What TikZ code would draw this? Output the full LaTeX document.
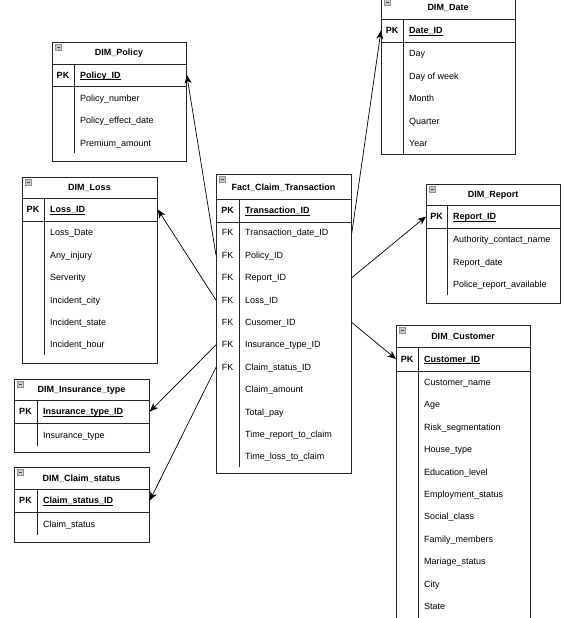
\documentclass[tikz,border=0pt]{standalone}
\usepackage{fontspec}
\setmainfont{Liberation Sans}
\usepackage{tikz}
\usetikzlibrary{arrows.meta, positioning}

\newcommand{\pkname}[1]{\underline{\smash{#1}}}

\tikzset{
  tbl/.style={draw=black!85, line width=0.8pt, anchor=north west, inner sep=0pt},
  tblline/.style={draw=black!85, line width=0.8pt},
  icon/.style={draw=gray!85, fill=gray!45, line width=0.5pt},
  txt/.style={font=\fontsize{9}{11}\selectfont, inner sep=0pt, text height=6.5pt, text depth=0.5pt},
  ttl/.style={txt, font=\fontsize{9}{11}\selectfont\bfseries},
  keylbl/.style={txt},
  pklbl/.style={txt, font=\fontsize{9}{11}\selectfont\bfseries},
  fld/.style={txt, anchor=west},
  pkfld/.style={fld, font=\fontsize{9}{11}\selectfont\bfseries},
  fkarrow/.style={draw=black, line width=0.7pt, -{Stealth[length=8.5pt, width=7pt, inset=2.5pt]}}
}

\begin{document}
\begin{tikzpicture}[x=1pt, y=-1pt]
  \useasboundingbox (0,0) rectangle (565,618);
  \clip (0,0) rectangle (565,618);

  % DIM_Date
  \node[tbl, minimum width=134, minimum height=157] (date) at (381,-3) {};
  \draw[tblline] (381,19) -- (515,19) (381,42) -- (515,42) (403,19) -- (403,154);
  \node[ttl] (datettl) at (448,8) {DIM\_Date};
  \node[pklbl] (datekey) at (392,30.5) {PK};
  \node[pkfld] (datepk) at (409,30.5) {\pkname{Date\_ID}};
  \foreach \t [count=\i] in {Day, Day of week, Month, Quarter, Year}
    \node[fld] (date\i) at (409,31.5+22.4*\i) {\t};

  % DIM_Policy
  \node[tbl, minimum width=134, minimum height=119] (policy) at (52,42) {};
  \draw[tblline] (52,64) -- (186,64) (52,86) -- (186,86) (74,64) -- (74,153);
  \node[ttl] (polttl) at (119,53) {DIM\_Policy};
  \node[pklbl] (polkey) at (63,75) {PK};
  \node[pkfld] (polpk) at (80,75) {\pkname{Policy\_ID}};
  \foreach \t [count=\i] in {Policy\_number, Policy\_effect\_date, Premium\_amount}
    \node[fld] (pol\i) at (80,76+22.4*\i) {\t};

  % DIM_Loss
  \node[tbl, minimum width=135, minimum height=186] (loss) at (22,177) {};
  \draw[tblline] (22,198) -- (157,198) (22,221) -- (157,221) (44,198) -- (44,355);
  \node[ttl] (lossttl) at (89.5,187.5) {DIM\_Loss};
  \node[pklbl] (losskey) at (33,209.5) {PK};
  \node[pkfld] (losspk) at (50,209.5) {\pkname{Loss\_ID}};
  \foreach \t [count=\i] in {Loss\_Date, Any\_injury, Serverity, Incident\_city, Incident\_state, Incident\_hour}
    \node[fld] (loss\i) at (50,210.5+22.4*\i) {\t};

  % DIM_Insurance_type
  \node[tbl, minimum width=135, minimum height=73] (instype) at (14,379) {};
  \draw[tblline] (14,400) -- (149,400) (14,423) -- (149,423) (37,400) -- (37,446);
  \node[ttl] (insttl) at (81.5,389.5) {DIM\_Insurance\_type};
  \node[pklbl] (inskey) at (25.5,411.5) {PK};
  \node[pkfld] (inspk) at (43,411.5) {\pkname{Insurance\_type\_ID}};
  \node[fld] (ins1) at (43,435) {Insurance\_type};

  % DIM_Claim_status
  \node[tbl, minimum width=135, minimum height=75] (status) at (14,467) {};
  \draw[tblline] (14,489) -- (149,489) (14,512) -- (149,512) (37,489) -- (37,535);
  \node[ttl] (stttl) at (81.5,478) {DIM\_Claim\_status};
  \node[pklbl] (stkey) at (25.5,500.5) {PK};
  \node[pkfld] (stpk) at (43,500.5) {\pkname{Claim\_status\_ID}};
  \node[fld] (st1) at (43,524) {Claim\_status};

  % Fact_Claim_Transaction
  \node[tbl, minimum width=135, minimum height=299] (fact) at (216,174) {};
  \draw[tblline] (216,199) -- (351,199) (216,222) -- (351,222) (239,199) -- (239,467);
  \node[ttl] (fctttl) at (283.5,187) {Fact\_Claim\_Transaction};
  \node[pklbl] (fctkey) at (227.5,210.5) {PK};
  \node[pkfld] (fctpk) at (245,210.5) {\pkname{Transaction\_ID}};
  \foreach \t [count=\i] in {Transaction\_date\_ID, Policy\_ID, Report\_ID, Loss\_ID, Cusomer\_ID,
      Insurance\_type\_ID, Claim\_status\_ID, Claim\_amount, Total\_pay, Time\_report\_to\_claim, Time\_loss\_to\_claim}
    \node[fld] (fct\i) at (245,210.5+22.4*\i) {\t};
  \foreach \i in {1,...,7}
    \node[keylbl] (fctfk\i) at (227.5,210.5+22.4*\i) {FK};

  % DIM_Report
  \node[tbl, minimum width=134, minimum height=119] (report) at (426,184) {};
  \draw[tblline] (426,205) -- (560,205) (426,228) -- (560,228) (447,205) -- (447,295);
  \node[ttl] (repttl) at (493,194.5) {DIM\_Report};
  \node[pklbl] (repkey) at (436.5,216.5) {PK};
  \node[pkfld] (reppk) at (453,216.5) {\pkname{Report\_ID}};
  \foreach \t [count=\i] in {Authority\_contact\_name, Report\_date, Police\_report\_available}
    \node[fld] (rep\i) at (453,217.5+22.4*\i) {\t};

  % DIM_Customer (runs off the bottom)
  \node[tbl, minimum width=134, minimum height=315] (customer) at (396,325) {};
  \draw[tblline] (396,347) -- (530,347) (396,371) -- (530,371) (418,347) -- (418,640);
  \node[ttl] (custttl) at (463,336) {DIM\_Customer};
  \node[pklbl] (custkey) at (407,359) {PK};
  \node[pkfld] (custpk) at (424,359) {\pkname{Customer\_ID}};
  \foreach \t [count=\i] in {Customer\_name, Age, Risk\_segmentation, House\_type, Education\_level,
      Employment\_status, Social\_class, Family\_members, Mariage\_status, City, State}
    \node[fld] (cust\i) at (424,360+22.4*\i) {\t};

  % Collapse icons
  \foreach \x/\y in {381/-3, 52/42, 22/177, 14/379, 14/467, 216/174, 426/184, 396/325} {
    \draw[icon] (\x+3,\y+2) rectangle ++(6,6);
    \draw[black!70, line width=0.6pt] (\x+4.5,\y+5) -- ++(3,0);
  }

  % Foreign keys
  \draw[fkarrow] (fct1 -| fact.east) -- (datepk -| date.west);
  \draw[fkarrow] (fct2 -| fact.west) -- (polpk -| policy.east);
  \draw[fkarrow] (fct3 -| fact.east) -- (reppk -| report.west);
  \draw[fkarrow] (fct4 -| fact.west) -- (losspk -| loss.east);
  \draw[fkarrow] (fct5 -| fact.east) -- (custpk -| customer.west);
  \draw[fkarrow] (fct6 -| fact.west) -- (inspk -| instype.east);
  \draw[fkarrow] (fct7 -| fact.west) -- (stpk -| status.east);
\end{tikzpicture}
\end{document}
